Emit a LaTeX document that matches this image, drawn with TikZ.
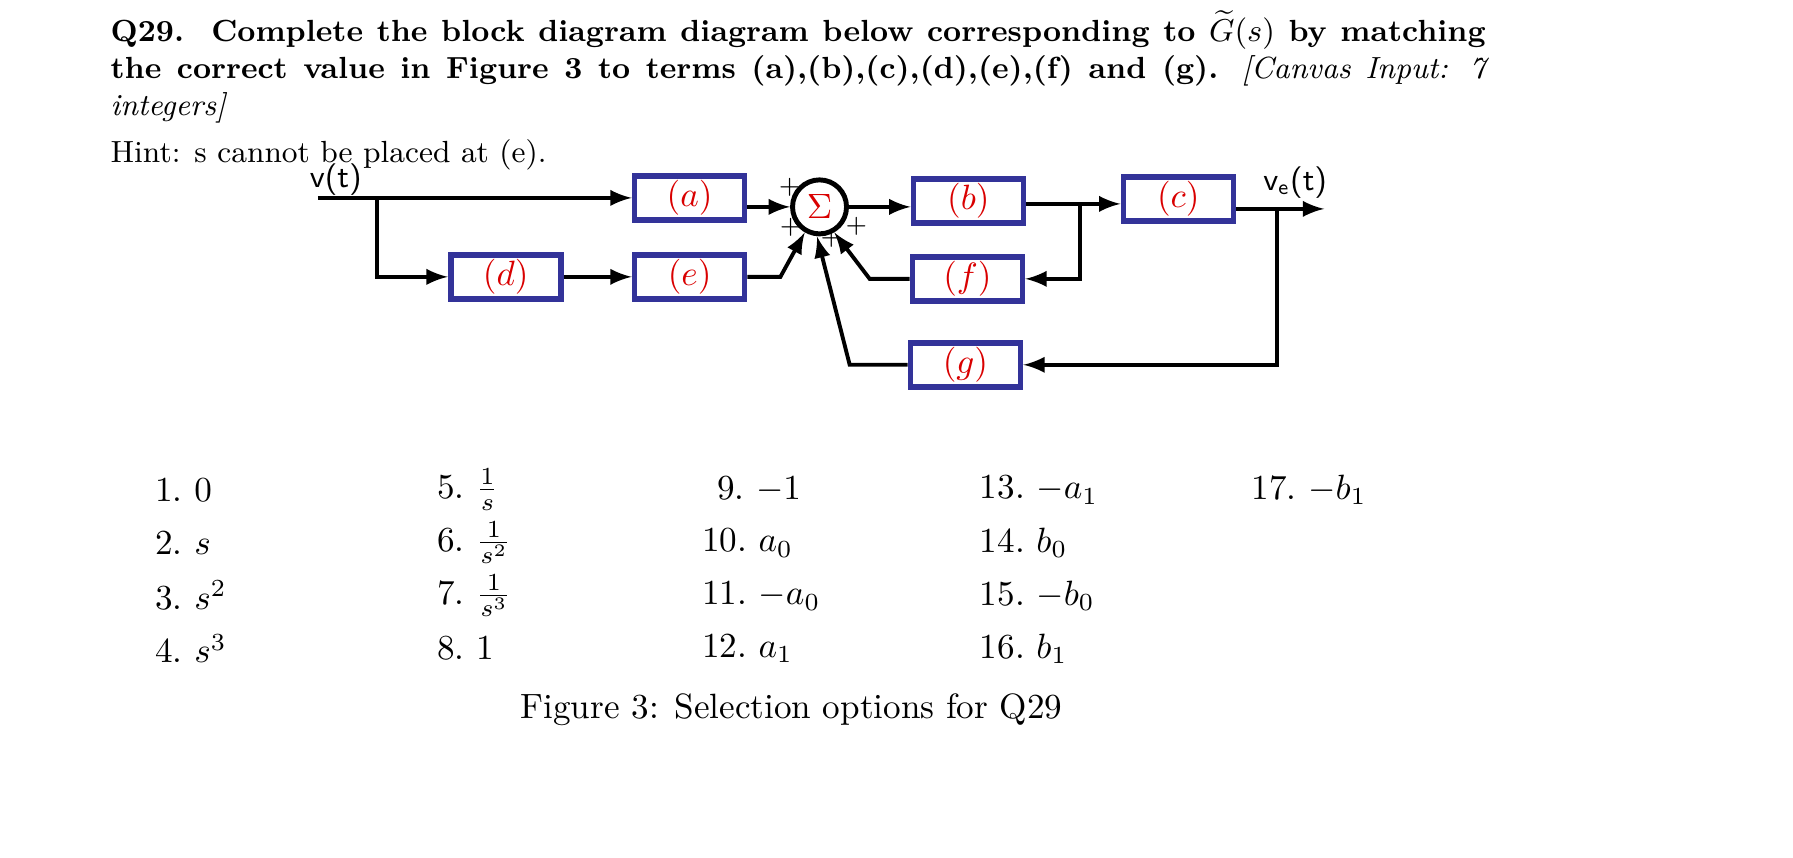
\documentclass[tikz,border=0pt]{standalone}
\usepackage{amsmath}
\usetikzlibrary{positioning}
\tikzset{
  blk/.style={draw=blue!50!black!80, line width=1.6pt, minimum width=1.1cm, minimum height=0.44cm, inner sep=0pt, text=red!85!black},
  sig/.style={line width=1.1pt, -latex},
  opt/.style={anchor=west, font=\fontsize{10}{12}\selectfont}
}
\begin{document}
\begin{tikzpicture}[x=0.01cm,y=-0.01cm]
\useasboundingbox (0cm,0cm) rectangle (17.93cm,-8.57cm);
% header text
\node[anchor=north west, text width=13.75cm, align=justify, inner sep=0pt, font=\fontsize{8.7}{10.5}\selectfont] (hdr) at (110,10)
 {\textbf{Q29.\ \ Complete the block diagram diagram below corresponding to $\widetilde{G}(s)$ by matching the correct value in Figure 3 to terms (a),(b),(c),(d),(e),(f) and (g).} \textit{[Canvas Input: 7 integers]}\\[3pt]
 Hint: s cannot be placed at (e).};
% blocks
\node[blk] (a) at (690,198) {$(a)$};
\node[blk] (b) at (969,201) {$(b)$};
\node[blk] (c) at (1179,199) {$(c)$};
\node[blk] (d) at (506,277) {$(d)$};
\node[blk] (e) at (690,277) {$(e)$};
\node[blk] (f) at (968,279) {$(f)$};
\node[blk] (g) at (966,365) {$(g)$};
\node[circle, draw, line width=1.4pt, minimum size=0.54cm, inner sep=0pt, text=red!85!black] (sum) at (820,207) {$\Sigma$};
% coordinates
\coordinate (in) at (318,198);
\coordinate (br1) at (377,198);
\coordinate (br2) at (1081,204);
\coordinate (br3) at (1278,209);
\coordinate (out) at (1325,209);
\node[font=\sffamily\fontsize{9}{10}\selectfont] (vt) at (336,180) {v(t)};
\node[font=\sffamily\fontsize{9}{10}\selectfont] (vet) at (1296,183) {v\textsubscript{e}(t)};
% connectors
\draw[sig] (in) -- (a.west);
\draw[sig] (br1) |- (d.west);
\draw[sig] (d) -- (e);
\draw[sig] (a.east |- sum.west) -- (sum.west);
\draw[sig] (e.east) -- ++(33,0) -- (sum.240);
\draw[sig] (sum.east) -- (b.west |- sum.east);
\draw[sig] (b.east |- br2) -- (c.west |- br2);
\draw[sig] (br2) |- (f.east);
\draw[sig] (f.west) -- ++(-40,0) -- (sum.300);
\draw[sig] (c.east |- out) -- (out);
\draw[sig] (br3) |- (g.east);
\draw[sig] (g.west) -- ++(-58,0) -- (sum.265);
% signs
\node[font=\scriptsize] (p1) at (790,187) {+};
\node[font=\scriptsize] (p2) at (791,227) {+};
\node[font=\scriptsize] (p3) at (832,238) {+};
\node[font=\scriptsize] (p4) at (857,226) {+};
% options
\foreach \t [count=\i] in {$0$,$s$,$s^2$,$s^3$}
  \node[opt] (o\i) at (143,{490+53*(\i-1)}) {\i.\ \t};
\foreach \t [count=\i from 5] in {$\frac{1}{s}$,$\frac{1}{s^2}$,$\frac{1}{s^3}$,$1$}
  \node[opt] (o\i) at (425,{490+53*(\i-5)}) {\i.\ \t};
\node[opt] (o9) at (705,490) {9.\ $-1$};
\foreach \t [count=\i from 10] in {$a_0$,$-a_0$,$a_1$}
  \node[opt] (o\i) at (690,{543+53*(\i-10)}) {\i.\ \t};
\foreach \t [count=\i from 13] in {$-a_1$,$b_0$,$-b_0$,$b_1$}
  \node[opt] (o\i) at (968,{490+53*(\i-13)}) {\i.\ \t};
\node[opt] (o17) at (1240,490) {17.\ $-b_1$};
\node[font=\fontsize{10}{12}\selectfont] (cap) at (792,710) {Figure 3: Selection options for Q29};
\end{tikzpicture}
\end{document}
